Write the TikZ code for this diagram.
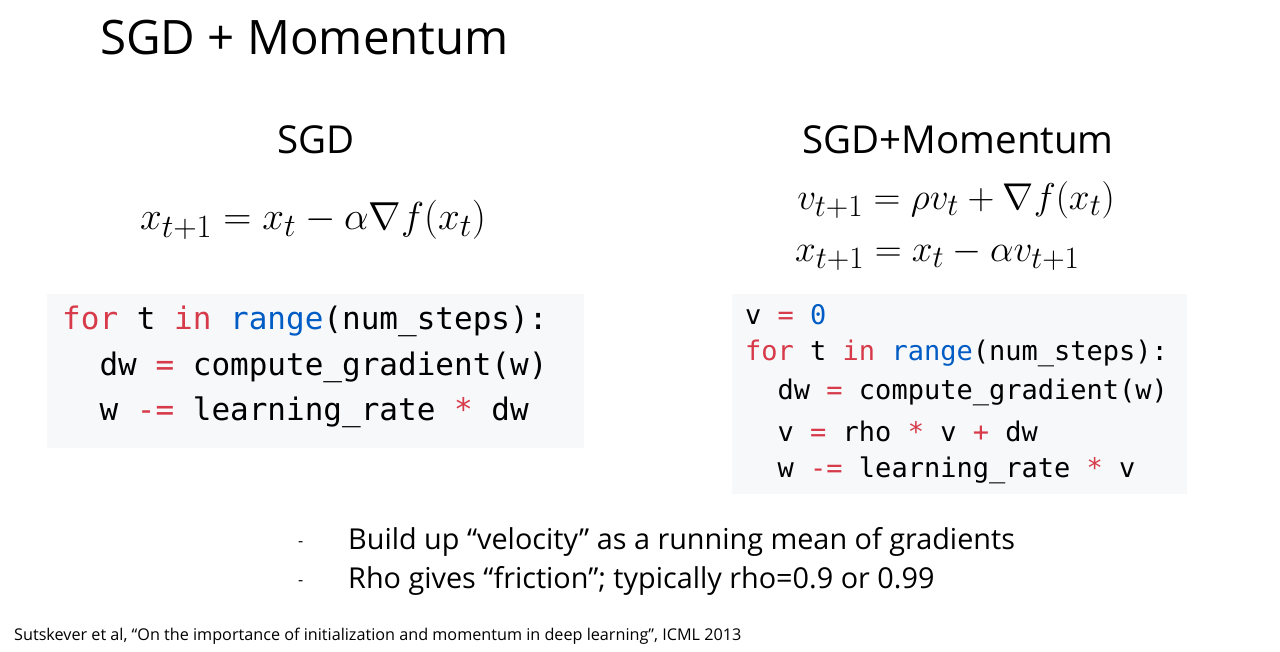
\documentclass[tikz,border=0pt]{standalone}
\usepackage{fontspec}
\setmainfont{Open Sans}
\setmonofont{DejaVu Sans Mono}
\definecolor{kw}{HTML}{D73A49}
\definecolor{bl}{HTML}{005CC5}
\definecolor{codebg}{HTML}{F6F8FA}
\newcommand{\K}[1]{\textcolor{kw}{#1}}
\newcommand{\B}[1]{\textcolor{bl}{#1}}
\newcommand{\U}{\char`\_}
\begin{document}
\begin{tikzpicture}[x=1pt,y=-1pt,
  txt/.style={inner sep=0pt},
  codeL/.style={inner sep=0pt,anchor=west,font=\fontsize{31}{34}\selectfont\ttfamily},
  codeR/.style={inner sep=0pt,anchor=west,font=\fontsize{27}{30}\selectfont\ttfamily},
  bul/.style={inner sep=0pt,anchor=west,font=\fontsize{28.8}{32}\selectfont},
  eq/.style={inner sep=0pt,font=\fontsize{32}{36}\selectfont}]
\useasboundingbox (0,0) rectangle (1280,652);
\fill[white] (0,0) rectangle (1280,652);
\node[txt,anchor=west,font=\fontsize{47.5}{52}\selectfont] (title) at (100,38) {SGD + Momentum};
\node[txt,font=\fontsize{38.5}{42}\selectfont] (h1) at (316,140) {SGD};
\node[txt,font=\fontsize{38.5}{42}\selectfont] (h2) at (958,140) {SGD+Momentum};
\node[eq] (e1) at (313,220) {\scalebox{1.57}{$x_{t+1}=x_t-\alpha\nabla f(x_t)$}};
\node[eq] (e2) at (956,200) {\scalebox{1.5}{$v_{t+1}=\rho v_t+\nabla f(x_t)$}};
\node[eq,anchor=west] (e3) at (795,255) {\scalebox{1.5}{$x_{t+1}=x_t-\alpha v_{t+1}$}};
\fill[codebg] (47,294) rectangle (584,448);
\node[codeL] (l1) at (62,321) {\K{for} t \K{in} \B{range}(num\U steps):};
\node[codeL] (l2) at (62,367) {\ \ dw \K{=} compute\U gradient(w)};
\node[codeL] (l3) at (62,412) {\ \ w \K{-=} learning\U rate \K{*} dw};
\fill[codebg] (732,294) rectangle (1187,494);
\node[codeR] (r1) at (745,315) {v \K{=} \B{0}};
\node[codeR] (r2) at (745,353) {\K{for} t \K{in} \B{range}(num\U steps):};
\node[codeR] (r3) at (745,392) {\ \ dw \K{=} compute\U gradient(w)};
\node[codeR] (r4) at (745,431) {\ \ v \K{=} rho \K{*} v \K{+} dw};
\node[codeR] (r5) at (745,470) {\ \ w \K{-=} learning\U rate \K{*} v};
\node[bul] (d1) at (298,544) {\fontsize{16}{18}\selectfont-};
\node[bul] (b1) at (348,542) {Build up “velocity” as a running mean of gradients};
\node[bul] (d2) at (298,583) {\fontsize{16}{18}\selectfont-};
\node[bul] (b2) at (348,581) {Rho gives “friction”; typically rho=0.9 or 0.99};
\node[txt,anchor=west,font=\fontsize{16.2}{18}\selectfont] (foot) at (14,636) {Sutskever et al, “On the importance of initialization and momentum in deep learning”, ICML 2013};
\end{tikzpicture}
\end{document}
